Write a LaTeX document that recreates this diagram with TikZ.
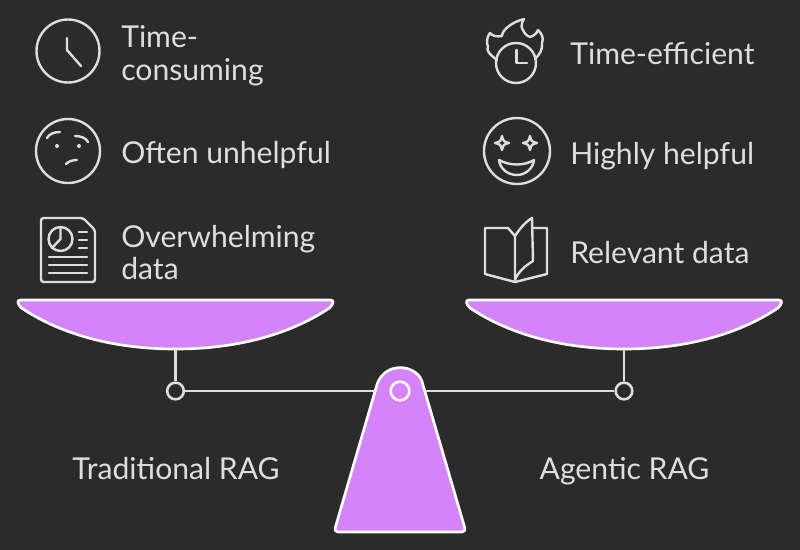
\documentclass[tikz,border=0pt]{standalone}
\usepackage{fontspec}
\setmainfont{Lato}
\usetikzlibrary{positioning}
\definecolor{bgdark}{HTML}{2B2B2B}
\definecolor{inkgrey}{HTML}{DEDEDE}
\definecolor{panviolet}{HTML}{D583FB}
\tikzset{
  icon/.style={draw=inkgrey, line width=1.8pt, line cap=round, line join=round},
  lbl/.style={text=inkgrey, anchor=west, align=left, inner sep=0pt, font=\fontsize{22.6}{24.5}\selectfont},
  sidelbl/.style={lbl, anchor=base},
  rowlbl/.style={lbl, anchor=base west},
  hinge/.style={circle, draw=inkgrey, line width=1.9pt, fill=bgdark, minimum size=12.5pt, inner sep=0pt},
  bar/.style={draw=inkgrey, line width=1.9pt},
  solid part/.style={fill=panviolet, draw=white, line width=2pt, line join=round}
}
\begin{document}
\begin{tikzpicture}[x=0.75pt, y=-0.75pt]
  \useasboundingbox (0,0) rectangle (800,550);
  \fill[bgdark] (0,0) rectangle (800,550);

  % left column
  \draw[icon] (68,51) circle[radius=31.5];
  \draw[icon] (67,38) -- (67,50) -- (81,66);

  \draw[icon] (68,151) circle[radius=32];
  \draw[icon] (47,138) .. controls (49,134) and (54,132) .. (60,132);
  \draw[icon] (75,136) .. controls (81,136) and (86,138) .. (88,142);
  \draw[icon] (66,164) .. controls (69,161) and (73,160) .. (77,160);
  \fill[inkgrey] (57,146) circle[radius=2] (79,146) circle[radius=2];

  \draw[icon, rounded corners=2pt] (41,218) -- (83,218) -- (95,230) -- (95,282) -- (41,282) -- cycle;
  \draw[icon] (60.5,239) circle[radius=12];
  \draw[icon] (60.5,227) -- (60.5,239) -- (52,248);
  \draw[icon] (79,232) -- (87,232) (79,240) -- (87,240) (79,248) -- (87,248);
  \draw[icon] (49,257) -- (87,257) (49,265) -- (87,265) (49,273) -- (87,273);

  \node[lbl] (timeL) at (121,56) {Time-\\consuming};
  \node[rowlbl] (helpL) at (121,163.5) {Often unhelpful};
  \node[lbl] (dataL) at (121,252.5) {Overwhelming\\data};

  % right column
  \draw[icon] (516,63) circle[radius=20];
  \draw[icon] (516.5,50) -- (516.5,63) -- (527,63);
  \draw[icon] (497,60) .. controls (489,54) and (486,50) .. (488,47)
    .. controls (486,42) and (487,37) .. (490,33)
    .. controls (492,36) and (497,37) .. (502,36)
    .. controls (502,30) and (512,22) .. (524,19)
    .. controls (520,25) and (522,29) .. (523,30)
    .. controls (524,33) and (527,36) .. (530,37)
    .. controls (534,36) and (537,33) .. (538,30)
    .. controls (542,34) and (544,38) .. (542,43)
    .. controls (543,50) and (539,55) .. (535,59);

  \draw[icon] (517,151) circle[radius=33];
  \draw[icon] (502,136) .. controls (503,141) and (504,142) .. (509,143)
    .. controls (504,144) and (503,145) .. (502,150)
    .. controls (501,145) and (500,144) .. (495,143)
    .. controls (500,142) and (501,141) .. (502,136) -- cycle;
  \draw[icon] (530,136) .. controls (531,141) and (532,142) .. (537,143)
    .. controls (532,144) and (531,145) .. (530,150)
    .. controls (529,145) and (528,144) .. (523,143)
    .. controls (528,142) and (529,141) .. (530,136) -- cycle;
  \draw[icon] (499,160) .. controls (510,166) and (524,166) .. (534,160)
    .. controls (533,169) and (525,175) .. (517,175)
    .. controls (508,175) and (500,169) .. (499,160) -- cycle;

  \draw[icon] (533,228) -- (547,228) -- (547,274) -- (515,282) -- (485,274) -- (485,228) -- (508,228) -- (515,236);
  \draw[icon] (515,236) .. controls (519,230) and (525,222) .. (532,218) -- (533,261)
    .. controls (525,266) and (518,272) .. (515,280) -- cycle;

  \node[rowlbl] (timeR) at (570,64) {Time-efficient};
  \node[rowlbl] (helpR) at (570,164) {Highly helpful};
  \node[rowlbl] (dataR) at (570,263) {Relevant data};

  % scale
  \node[hinge] (hingeL) at (175.5,391) {};
  \node[hinge] (hingeR) at (624,391) {};
  \draw[bar] (hingeL) -- (hingeR);
  \foreach \x/\n in {175.5/L, 624/R} {
    \begin{scope}[xshift=\x*0.75pt]
      \coordinate (pan\n) at (0,349);
      \draw[solid part] (-154,308) .. controls (-112,336) and (-58,349) .. (0,349)
        .. controls (58,349) and (112,336) .. (154,308)
        .. controls (158,304) and (159,300) .. (155,300) -- (-155,300)
        .. controls (-159,300) and (-158,304) .. (-154,308) -- cycle;
    \end{scope}
  }
  \draw[bar] (panL) -- (hingeL);
  \draw[bar] (panR) -- (hingeR);

  \draw[solid part] (423,385) arc[start angle=-16, end angle=-164, radius=24]
    [rounded corners=3pt] -- (334,532) -- (466,532) -- cycle;
  \node[hinge, draw=white, fill=panviolet, minimum size=14pt] (pin) at (400,391) {};

  \node[sidelbl] (tradRag) at (176,479) {Traditional RAG};
  \node[sidelbl] (agentRag) at (624.5,479) {Agentic RAG};
\end{tikzpicture}
\end{document}
